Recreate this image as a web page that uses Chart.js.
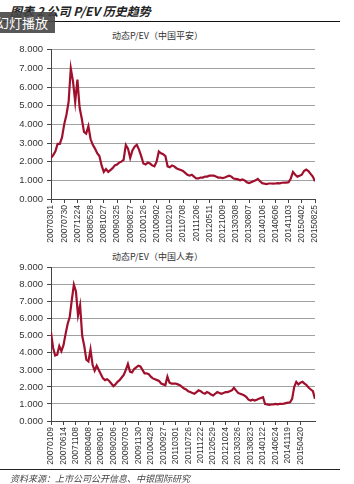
<!DOCTYPE html>
<html>
<head>
<meta charset="utf-8">
<script src="https://cdn.jsdelivr.net/npm/chart.js@4.4.1/dist/chart.umd.min.js"></script>
<style>
  body { margin: 0; background: #fff; width: 354px; height: 484px; position: relative; overflow: hidden; font-family: "Liberation Sans", Arial, sans-serif; }
  .abs { position: absolute; }
  #head { left: 10px; top: 2px; font-size: 12px; font-weight: bold; font-style: italic; color: #222; font-family: "Noto Sans CJK SC", sans-serif; white-space: nowrap; }
  #rule1 { left: 0; top: 21px; width: 340px; height: 1px; background: #111; }
  #overlay { left: 0; top: 12px; width: 55px; height: 21px; background: rgba(70,70,70,0.9); color: #fff; font-size: 13px; line-height: 21px; overflow: hidden; white-space: nowrap; font-family: "Noto Sans CJK SC", sans-serif; }
  #overlay span { position: relative; left: -4px; }
  .ttl { font-size: 9px; color: #333; font-family: "Noto Sans CJK SC", sans-serif; white-space: nowrap; }
  #t1 { left: 112px; top: 29px; }
  #t2 { left: 112px; top: 250px; }
  #rule2 { left: 0; top: 469px; width: 340px; height: 1px; background: #222; }
  #src { left: 10px; top: 472px; font-size: 9px; font-style: italic; color: #444; font-family: "Noto Sans CJK SC", sans-serif; white-space: nowrap; }
  canvas { position: absolute; left: 0; }
</style>
</head>
<body>
<div class="abs" id="head">图表 2 公司 P/EV 历史趋势</div>
<div class="abs" id="rule1"></div>
<div class="abs" id="overlay"><span>幻灯播放</span></div>
<div class="abs ttl" id="t1">动态P/EV（中国平安）</div>
<canvas id="c1" width="354" height="210" style="top:40px"></canvas>
<div class="abs ttl" id="t2">动态P/EV（中国人寿）</div>
<canvas id="c2" width="354" height="212" style="top:258px"></canvas>
<div class="abs" id="rule2"></div>
<div class="abs" id="src">资料来源：上市公司公开信息、中银国际研究</div>

<script>
// points between two date labels
const PER_TICK = 6;

// 中国平安
const pinganLabels = ['20070301', '20070730', '20071224', '20080528', '20081027', '20090325', '20090827',
  '20100126', '20100902', '20110210', '20110708', '20111206', '20120511', '20121009', '20130308',
  '20130807', '20140106', '20140606', '20141103', '20150402', '20150825'];
const pinganValues = [
  2.2, 2.35, 2.55, 2.95, 2.95, 3.3, 4.0, 4.5, 5.2, 7.0,
  6.3, 5.2, 6.4, 4.9, 4.3, 3.6, 3.5, 3.9, 3.2, 2.9,
  2.7, 2.45, 2.3, 1.8, 1.45, 1.6, 1.45, 1.55, 1.65, 1.8,
  1.85, 1.95, 2.0, 2.1, 2.9, 2.7, 2.2, 2.6, 2.8, 2.9,
  2.65, 2.3, 1.9, 1.85, 1.95, 1.9, 1.8, 1.75, 2.0, 2.55,
  2.45, 2.4, 2.3, 1.75, 1.7, 1.8, 1.75, 1.65, 1.6, 1.55,
  1.5, 1.4, 1.3, 1.25, 1.3, 1.2, 1.1, 1.1, 1.15, 1.15,
  1.2, 1.2, 1.25, 1.25, 1.25, 1.2, 1.15, 1.15, 1.12, 1.15,
  1.2, 1.25, 1.2, 1.1, 1.08, 1.05, 1.0, 1.05, 1.0, 0.9,
  0.85, 0.9, 0.95, 1.0, 1.08, 0.95, 0.85, 0.82, 0.8, 0.83,
  0.83, 0.82, 0.83, 0.85, 0.84, 0.87, 0.88, 0.88, 0.9, 1.1,
  1.45, 1.3, 1.2, 1.25, 1.3, 1.5, 1.58, 1.5, 1.35, 1.2,
  0.95];

// 中国人寿
const lifeLabels = ['20070109', '20070614', '20071108', '20080408', '20080901', '20090206', '20090703',
  '20091130', '20100428', '20100927', '20110301', '20110726', '20111222', '20120529', '20121024',
  '20130326', '20130823', '20140122', '20140624', '20141119', '20150420'];
const lifeValues = [
  5.2, 4.3, 3.85, 3.9, 4.4, 4.1, 4.45, 5.1, 5.7, 6.1,
  7.1, 8.0, 7.6, 6.2, 6.8, 5.0, 4.4, 3.6, 3.5, 4.2,
  3.3, 2.95, 3.25, 3.0, 2.75, 2.5, 2.4, 2.45, 2.35, 2.2,
  2.05, 2.15, 2.3, 2.4, 2.55, 2.7, 3.0, 3.35, 2.9, 2.85,
  3.05, 3.15, 3.25, 3.2, 3.0, 2.8, 2.8, 2.75, 2.6, 2.5,
  2.45, 2.4, 2.35, 2.2, 2.15, 2.1, 2.6, 2.25, 2.2, 2.2,
  2.2, 2.15, 2.1, 2.0, 1.9, 1.85, 1.75, 1.7, 1.65, 1.6,
  1.7, 1.8, 1.75, 1.65, 1.6, 1.7, 1.65, 1.55, 1.5, 1.6,
  1.7, 1.65, 1.6, 1.65, 1.7, 1.7, 1.75, 1.8, 1.95, 1.8,
  1.65, 1.6, 1.55, 1.5, 1.4, 1.25, 1.2, 1.25, 1.2, 1.25,
  1.3, 1.35, 1.4, 1.0, 0.98, 0.95, 0.97, 0.98, 1.0, 0.98,
  1.0, 1.0, 1.02, 1.05, 1.08, 1.1, 1.3, 2.0, 2.3, 2.15,
  2.25, 2.3, 2.2, 2.1, 1.95, 1.85, 1.75, 1.3];

Chart.defaults.font.family = '"Liberation Sans", Arial, sans-serif';

function drawChart(id, labels, values, yMax, padTop, xHeight) {
  const points = values.map((v, i) => ({ x: i, y: v }));
  new Chart(document.getElementById(id), {
    type: 'line',
    data: {
      datasets: [{
        data: points,
        borderColor: '#a0102d',
        borderWidth: 2.2,
        pointRadius: 0,
        tension: 0
      }]
    },
    options: {
      responsive: false,
      animation: false,
      devicePixelRatio: 1,
      layout: { padding: { top: padTop, right: 39, left: 0, bottom: 0 } },
      plugins: { legend: { display: false }, tooltip: { enabled: false } },
      scales: {
        x: {
          type: 'linear',
          min: 0,
          max: values.length - 1,
          afterBuildTicks: axis => { axis.ticks = labels.map((_, i) => ({ value: i * PER_TICK })); },
          afterFit: axis => { axis.height = xHeight; },
          ticks: {
            autoSkip: false,
            minRotation: 90,
            maxRotation: 90,
            padding: 2,
            color: '#333',
            font: { size: 8.5 },
            callback: v => labels[Math.round(v / PER_TICK)]
          },
          grid: { drawOnChartArea: false, tickLength: 4, tickColor: '#444' },
          border: { color: '#444' }
        },
        y: {
          min: 0,
          max: yMax,
          afterFit: axis => { axis.width = 51; },
          ticks: {
            stepSize: 1,
            padding: 4,
            color: '#333',
            font: { size: 9.5 },
            callback: v => v.toFixed(3)
          },
          grid: { color: '#a0a0a0', tickLength: 4, tickColor: '#444' },
          border: { color: '#444' }
        }
      }
    }
  });
}

drawChart('c1', pinganLabels, pinganValues, 8, 7, 51);
drawChart('c2', lifeLabels, lifeValues, 9, 9, 49);
</script>
</body>
</html>
